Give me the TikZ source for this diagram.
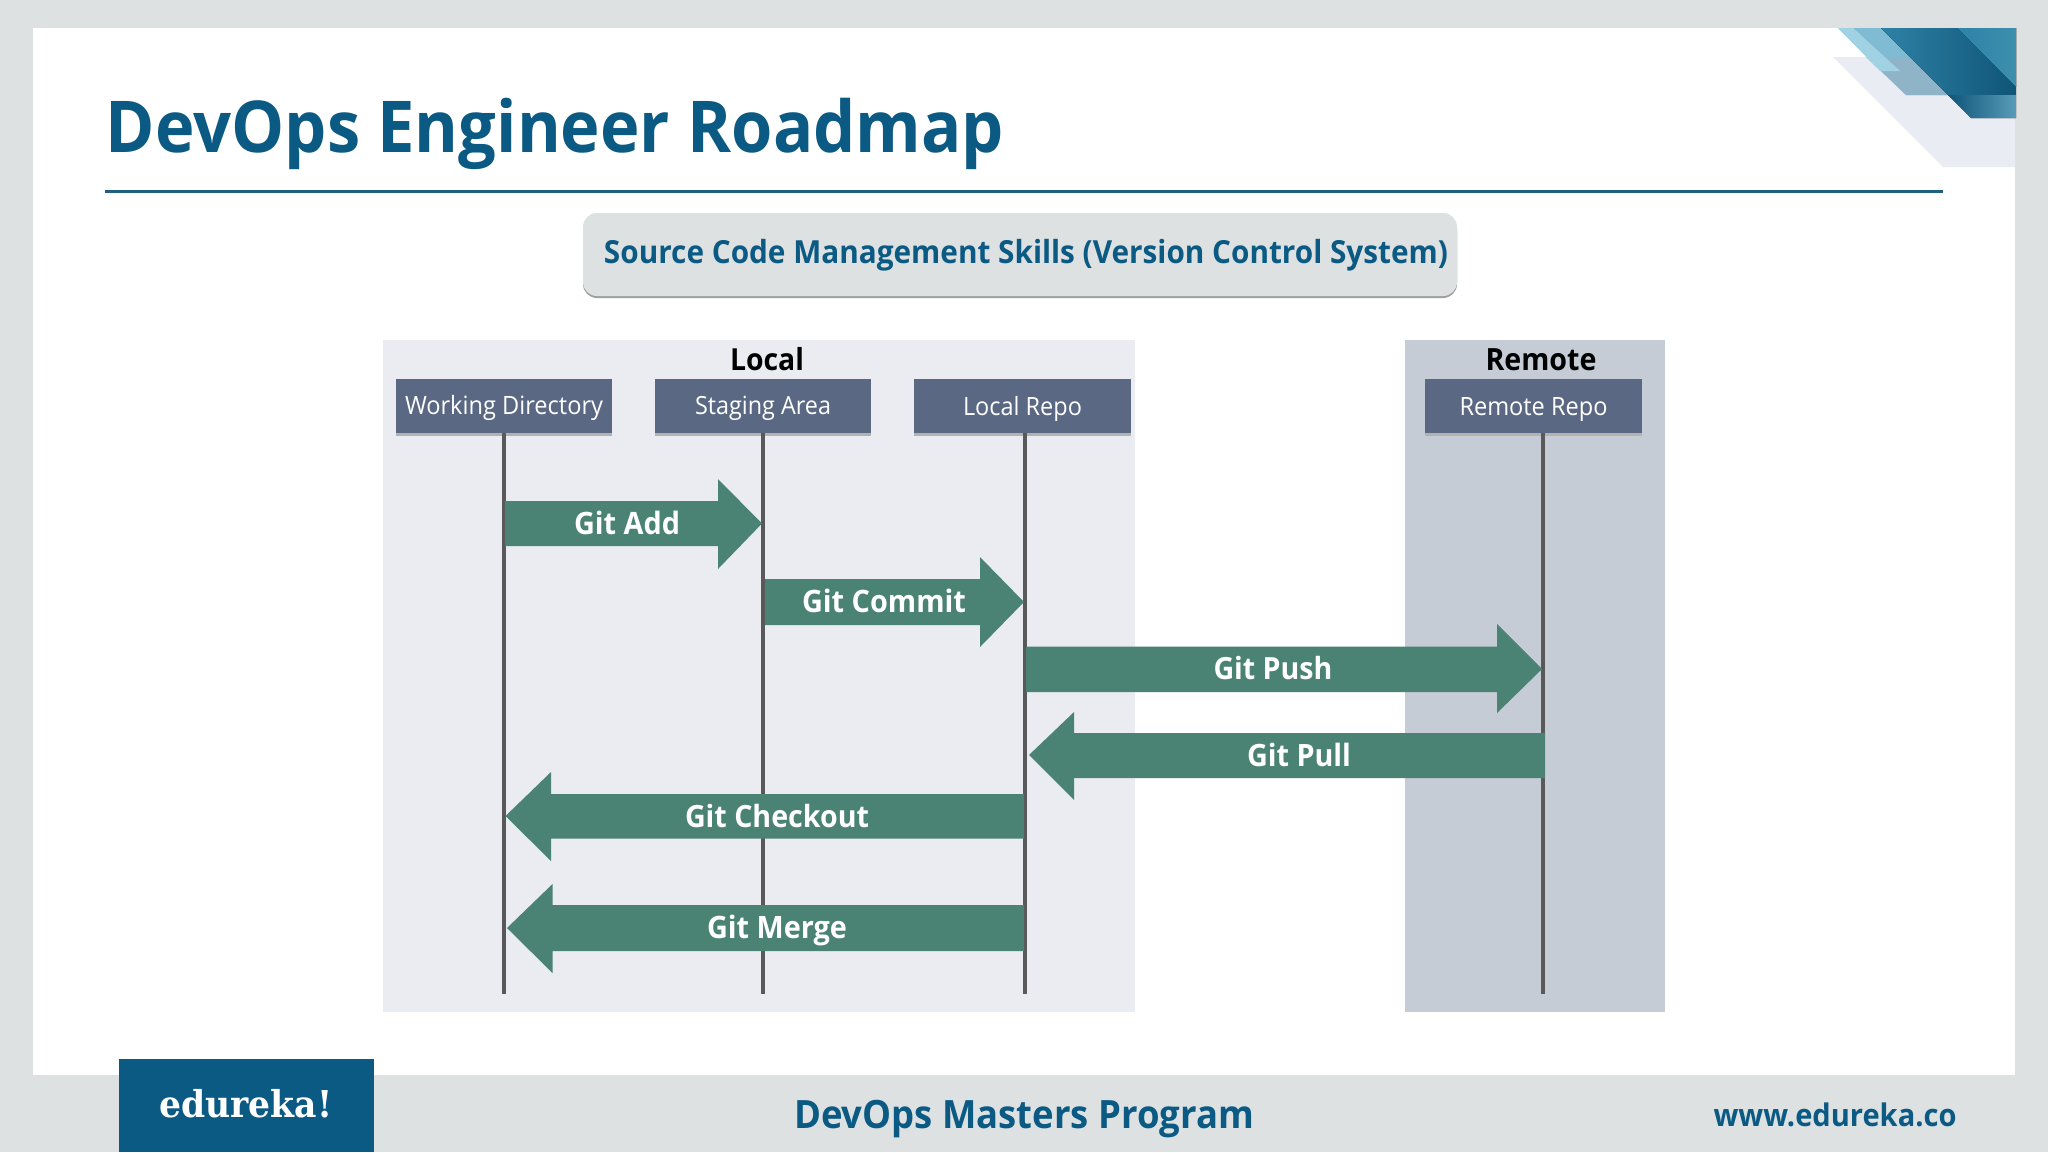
\documentclass[tikz,border=0pt]{standalone}
\usepackage{graphicx}
\usepackage{fontspec}
\setmainfont{Open Sans}
\newfontfamily\semi{Open Sans}[UprightFont=*-Bold]
\newfontfamily\slab{DejaVu Serif}
\usetikzlibrary{calc}
\definecolor{pagebg}{HTML}{DDE1E2}
\definecolor{brand}{HTML}{0B5A83}
\definecolor{rulec}{HTML}{1F5F80}
\definecolor{localbg}{HTML}{EAECF2}
\definecolor{remotebg}{HTML}{C5CCD5}
\definecolor{boxc}{HTML}{5A6884}
\definecolor{arrowc}{HTML}{4A8274}
\definecolor{linec}{HTML}{595959}
\definecolor{pale}{HTML}{E9ECF2}
\definecolor{lightA}{HTML}{A0D2E3}
\definecolor{lightM}{HTML}{7FBCD3}
\definecolor{lightB}{HTML}{8FB4C8}
\definecolor{midA}{HTML}{2E82A6}
\definecolor{deepA}{HTML}{0F5578}
\definecolor{topR}{HTML}{3E8FAE}
\newcommand{\fitw}[2]{\resizebox{#1}{!}{\scalebox{1}[1.07]{#2}}}
\tikzset{
  hdr/.style={fill=boxc,text=white,inner sep=0pt,minimum width=108.25pt,minimum height=27pt,anchor=center},
  life/.style={draw=linec,line width=1.7pt},
  blockarrow/.style={fill=arrowc,draw=none},
  arrowlabel/.style={text=white,inner sep=0pt,font=\semi},
  heading/.style={text=black,inner sep=0pt,font=\semi},
  brandtext/.style={text=brand,inner sep=0pt,font=\semi},
}
\begin{document}
\begin{tikzpicture}[x=0.5pt,y=-0.5pt]
\useasboundingbox (0,0) rectangle (2048,1152);
% page
\fill[pagebg] (0,0) rectangle (2048,1152);
\fill[white] (33,28) rectangle (2015,1075);
% corner decoration
\fill[pale] (1833,57) -- (2015,57) -- (2015,167) -- (1943,167) -- cycle;
\fill[lightM] (1838,28) -- (1950,28) -- (2016,95) -- (1906,95) -- cycle;
\fill[lightB] (1866,57) -- (1978,57) -- (2016,95) -- (1906,95) -- cycle;
\fill[lightA] (1838,28) -- (1853,28) -- (1900,71) -- (1880,71) -- cycle;
\fill[left color=midA,right color=deepA] (1881,28) -- (2016,28) -- (2016,95) -- (1948,95) -- cycle;
\fill[left color=midA,right color=topR] (1957,28) -- (2016,28) -- (2016,87) -- cycle;
\fill[left color=deepA,right color=midA!80!white] (1948,95) -- (2016,95) -- (2016,118) -- (1971,118) -- cycle;
% title
\node[brandtext,anchor=center] (title) at (555,134) {\fitw{449pt}{DevOps Engineer Roadmap}};
\coordinate (ruleL) at (105,191.5);
\coordinate (ruleR) at (1943,191.5);
\draw[rulec,line width=1.2pt] (ruleL) -- (ruleR);
% source box
\fill[gray!75,rounded corners=7pt] (583,216) rectangle (1457,298);
\node[fill=pagebg,rounded corners=7pt,inner sep=0pt,minimum width=437pt,minimum height=41.5pt] (srcbox) at (1020,254.5) {};
\node[brandtext] (src) at (1026,255) {\fitw{422pt}{Source Code Management Skills (Version Control System)}};
% panels
\fill[localbg] (383,340) rectangle (1135,1012);
\fill[remotebg] (1405,340) rectangle (1665,1012);
\node[heading] (localt) at (767,359) {\fitw{37pt}{Local}};
\node[heading] (remotet) at (1541,360) {\fitw{55.5pt}{Remote}};
% header shadows and boxes
\foreach \xa/\xb in {396/612,655/871,914/1131,1425/1642}{\fill[gray!60] (\xa,430) rectangle (\xb,436);}
\node[hdr] (wd) at (504,406) {};
\node[hdr] (sa) at (763,406) {};
\node[hdr] (lr) at (1022.5,406) {};
\node[hdr] (rr) at (1533.5,406) {};
\node[text=white,inner sep=0pt] (wdt) at (504,408) {\fitw{99pt}{Working Directory}};
\node[text=white,inner sep=0pt] (sat) at (763,408) {\fitw{68pt}{Staging Area}};
\node[text=white,inner sep=0pt] (lrt) at (1022.5,409) {\fitw{59.5pt}{Local Repo}};
\node[text=white,inner sep=0pt] (rrt) at (1533.5,410) {\fitw{74pt}{Remote Repo}};
% lifelines
\coordinate (wdEnd) at (504,994);
\coordinate (saEnd) at (763,994);
\coordinate (lrEnd) at (1025,994);
\coordinate (rrEnd) at (1543,994);
\draw[life] (wd.south -| wdEnd) -- (wdEnd);
\draw[life] (sa.south -| saEnd) -- (saEnd);
\draw[life] (lr.south -| lrEnd) -- (lrEnd);
\draw[life] (rr.south -| rrEnd) -- (rrEnd);
% block arrows
\fill[blockarrow] (505,501) -- (718,501) -- (718,479) -- (762,523.5) -- (718,569) -- (718,546) -- (505,546) -- cycle;
\fill[blockarrow] (765,579) -- (980,579) -- (980,557) -- (1024,602) -- (980,647) -- (980,625) -- (765,625) -- cycle;
\fill[blockarrow] (1026,646.5) -- (1497,646.5) -- (1497,624) -- (1542,669) -- (1497,713) -- (1497,692) -- (1026,692) -- cycle;
\fill[blockarrow] (1545,733) -- (1074,733) -- (1074,712) -- (1029,755) -- (1074,800) -- (1074,778) -- (1545,778) -- cycle;
\fill[blockarrow] (1024,794) -- (551,794) -- (551,772) -- (505.5,816) -- (551,861) -- (551,838.5) -- (1024,838.5) -- cycle;
\fill[blockarrow] (1024,905) -- (552.5,905) -- (552.5,884) -- (507,928) -- (552.5,973) -- (552.5,951) -- (1024,951) -- cycle;
% arrow labels
\node[arrowlabel] (l1) at (627,523) {\fitw{53pt}{Git Add}};
\node[arrowlabel] (l2) at (884,601) {\fitw{82pt}{Git Commit}};
\node[arrowlabel] (l3) at (1273,668.5) {\fitw{59.5pt}{Git Push}};
\node[arrowlabel] (l4) at (1299,755) {\fitw{52pt}{Git Pull}};
\node[arrowlabel] (l5) at (777,816) {\fitw{92pt}{Git Checkout}};
\node[arrowlabel] (l6) at (777,930) {\fitw{70pt}{Git Merge}};
% footer
\node[fill=brand,inner sep=0pt,minimum width=127.5pt,minimum height=46.5pt] (logo) at (246.5,1105.5) {};
\node[text=white,inner sep=0pt,font=\slab\bfseries] (logot) at (246,1104) {\fitw{86.5pt}{edureka!}};
\node[brandtext] (prog) at (1024,1119) {\fitw{230pt}{DevOps Masters Program}};
\node[brandtext] (web) at (1835,1115) {\fitw{121.5pt}{www.edureka.co}};
\end{tikzpicture}
\end{document}
